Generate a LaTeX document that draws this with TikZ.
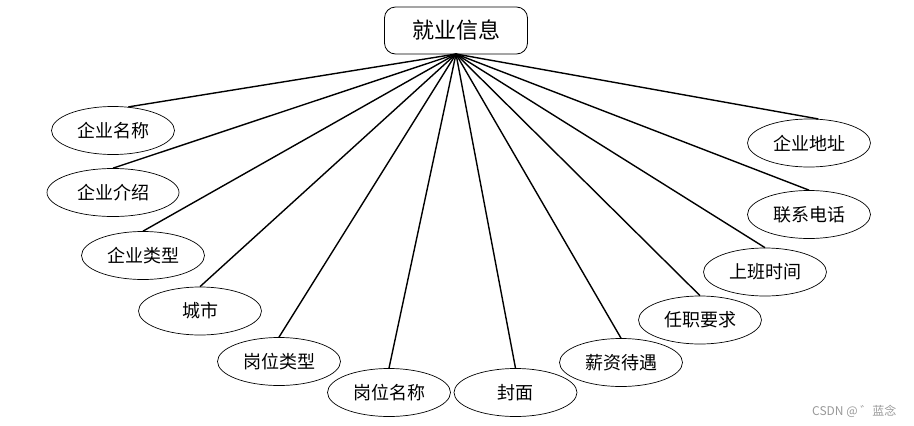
\documentclass[tikz,border=0pt]{standalone}
\usepackage{fontspec}
\newfontfamily\cjk{Noto Sans CJK SC}
\usetikzlibrary{shapes.geometric}
\begin{document}
\begin{tikzpicture}[x=1pt,y=-1pt,
  attr/.style={ellipse,draw,line width=0.7pt,minimum width=123pt,minimum height=48pt,inner sep=0pt,font=\cjk\fontsize{18}{18}\selectfont},
  conn/.style={line width=1.4pt},
  rootbox/.style={draw,rounded corners=11pt,line width=0.8pt,minimum width=143pt,minimum height=47pt,inner sep=0pt,font=\cjk\fontsize{22}{22}\selectfont}]
\useasboundingbox (0,0) rectangle (914,426);
\node[rootbox] (root) at (456,30.5) {就业信息};
\coordinate (hub) at (456,54);
\node[attr] (e1) at (113,130.5) {企业名称};
\node[attr,minimum width=132pt] (e2) at (113,192.5) {企业介绍};
\node[attr] (e3) at (143,255.5) {企业类型};
\node[attr] (e4) at (200,311) {城市};
\node[attr] (e5) at (279,361.5) {岗位类型};
\node[attr] (e6) at (389,392.5) {岗位名称};
\node[attr] (e7) at (515.5,392.5) {封面};
\node[attr] (e8) at (621,362.5) {薪资待遇};
\node[attr] (e9) at (700,320) {任职要求};
\node[attr] (e10) at (765,272) {上班时间};
\node[attr] (e11) at (809,214.5) {联系电话};
\node[attr] (e12) at (809,143) {企业地址};
\foreach \n/\a in {e1/57,e2/90,e3/90,e4/90,e5/90,e6/90,e7/90,e8/90,e9/90,e10/90,e11/90,e12/69}
  \draw[conn] (hub) -- (\n.\a);
\node[anchor=west,text=gray!80,inner sep=0pt,font=\cjk\fontsize{12}{12}\selectfont] (wm) at (812,411) {CSDN @ ゛蓝念};
\end{tikzpicture}
\end{document}
